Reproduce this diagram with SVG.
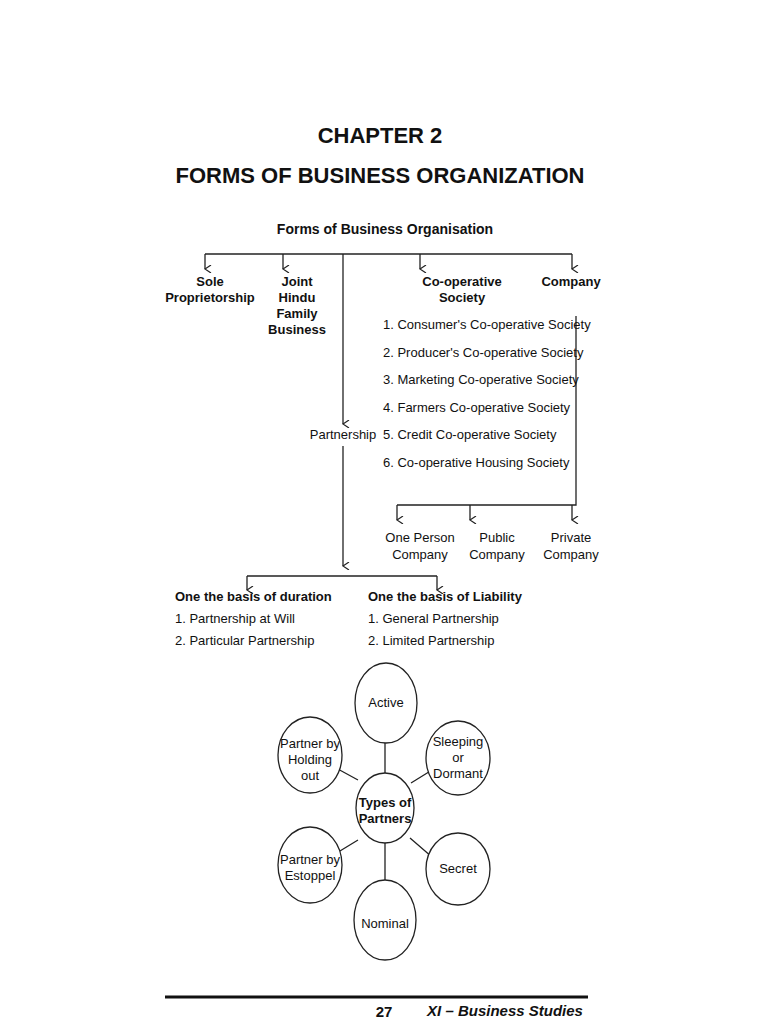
<svg xmlns="http://www.w3.org/2000/svg" width="768" height="1024" viewBox="0 0 768 1024">
<style>
text{font-family:"Liberation Sans Narrow","Liberation Sans",Arial,sans-serif;fill:#111}
.t{font-weight:bold;font-size:22px}
.b{font-weight:bold;font-size:13px}
.n{font-size:13px}
.l{stroke:#222;stroke-width:1.3;fill:none}
.c{stroke:#222;stroke-width:1.3;fill:#fff}
</style>
<defs><marker id="a" markerWidth="8" markerHeight="8" refX="4" refY="7" orient="auto-start-reverse" markerUnits="userSpaceOnUse"><path d="M0,1 L4,7 L8,1" fill="none" stroke="#222" stroke-width="1.2"/></marker></defs>
<rect width="768" height="1024" fill="#fff"/>
<text class="t" x="380" y="143" text-anchor="middle">CHAPTER 2</text>
<text class="t" x="380" y="183" text-anchor="middle">FORMS OF BUSINESS ORGANIZATION</text>
<text class="b" x="385" y="234" text-anchor="middle" style="font-size:14px">Forms of Business Organisation</text>
<g id="connectors">
<path class="l" d="M205,254 H572"/>
<path class="l" d="M205,254 V269" marker-end="url(#a)"/>
<path class="l" d="M283,254 V269" marker-end="url(#a)"/>
<path class="l" d="M420,254 V269" marker-end="url(#a)"/>
<path class="l" d="M572,254 V269" marker-end="url(#a)"/>
<path class="l" d="M343,254 V424" marker-end="url(#a)"/>
<path class="l" d="M343,446 V566" marker-end="url(#a)"/>
<path class="l" d="M576,316 V505 H397"/>
<path class="l" d="M397,505 V520" marker-end="url(#a)"/>
<path class="l" d="M470,505 V520" marker-end="url(#a)"/>
<path class="l" d="M572,505 V520" marker-end="url(#a)"/>
<path class="l" d="M247,576 H437"/>
<path class="l" d="M247,576 V590" marker-end="url(#a)"/>
<path class="l" d="M437,576 V590" marker-end="url(#a)"/>
<path class="l" d="M385,743 V773 M385,843 V880 M336,768 L358,780 M432,770 L411,783 M335,854 L358,840 M432,857 L410,838"/>
</g>
<g id="sole"><text class="b" x="210" y="286" text-anchor="middle">Sole</text><text class="b" x="210" y="302" text-anchor="middle">Proprietorship</text></g>
<g id="jhfb"><text class="b" x="297" y="286" text-anchor="middle">Joint</text><text class="b" x="297" y="302" text-anchor="middle">Hindu</text><text class="b" x="297" y="318" text-anchor="middle">Family</text><text class="b" x="297" y="334" text-anchor="middle">Business</text></g>
<g id="coop"><text class="b" x="462" y="286" text-anchor="middle">Co-operative</text><text class="b" x="462" y="302" text-anchor="middle">Society</text>
<text class="n" x="383" y="329">1. Consumer's Co-operative Society</text>
<text class="n" x="383" y="357">2. Producer's Co-operative Society</text>
<text class="n" x="383" y="384">3. Marketing Co-operative Society</text>
<text class="n" x="383" y="412">4. Farmers Co-operative Society</text>
<text class="n" x="383" y="439">5. Credit Co-operative Society</text>
<text class="n" x="383" y="467">6. Co-operative Housing Society</text></g>
<g id="company"><text class="b" x="571" y="286" text-anchor="middle">Company</text></g>
<g id="partnership"><text class="n" x="343" y="439" text-anchor="middle">Partnership</text></g>
<g id="opc"><text class="n" x="420" y="542" text-anchor="middle">One Person</text><text class="n" x="420" y="559" text-anchor="middle">Company</text></g>
<g id="public"><text class="n" x="497" y="542" text-anchor="middle">Public</text><text class="n" x="497" y="559" text-anchor="middle">Company</text></g>
<g id="private"><text class="n" x="571" y="542" text-anchor="middle">Private</text><text class="n" x="571" y="559" text-anchor="middle">Company</text></g>
<g id="duration"><text class="b" x="175" y="601">One the basis of duration</text><text class="n" x="175" y="623">1. Partnership at Will</text><text class="n" x="175" y="645">2. Particular Partnership</text></g>
<g id="liability"><text class="b" x="368" y="601">One the basis of Liability</text><text class="n" x="368" y="623">1. General Partnership</text><text class="n" x="368" y="645">2. Limited Partnership</text></g>
<g id="active"><ellipse class="c" cx="386" cy="703" rx="31" ry="40"/><text class="n" x="386" y="707" text-anchor="middle">Active</text></g>
<g id="holding"><ellipse class="c" cx="310" cy="755" rx="32" ry="38"/><text class="n" x="310" y="748" text-anchor="middle">Partner by</text><text class="n" x="310" y="764" text-anchor="middle">Holding</text><text class="n" x="310" y="780" text-anchor="middle">out</text></g>
<g id="sleeping"><ellipse class="c" cx="458" cy="758" rx="32" ry="37"/><text class="n" x="458" y="746" text-anchor="middle">Sleeping</text><text class="n" x="458" y="762" text-anchor="middle">or</text><text class="n" x="458" y="778" text-anchor="middle">Dormant</text></g>
<g id="types"><ellipse class="c" cx="385" cy="808" rx="29" ry="35"/><text class="b" x="385" y="807" text-anchor="middle">Types of</text><text class="b" x="385" y="823" text-anchor="middle">Partners</text></g>
<g id="estoppel"><ellipse class="c" cx="310" cy="865" rx="32" ry="38"/><text class="n" x="310" y="864" text-anchor="middle">Partner by</text><text class="n" x="310" y="880" text-anchor="middle">Estoppel</text></g>
<g id="secret"><ellipse class="c" cx="458" cy="869" rx="32" ry="36"/><text class="n" x="458" y="873" text-anchor="middle">Secret</text></g>
<g id="nominal"><ellipse class="c" cx="385" cy="920" rx="31" ry="40"/><text class="n" x="385" y="928" text-anchor="middle">Nominal</text></g>
<path d="M165,997 H588" stroke="#111" stroke-width="3"/>
<text x="384" y="1017" text-anchor="middle" style="font-weight:bold;font-size:15px">27</text>
<text x="505" y="1016" text-anchor="middle" style="font-weight:bold;font-style:italic;font-size:15px">XI – Business Studies</text>
</svg>
